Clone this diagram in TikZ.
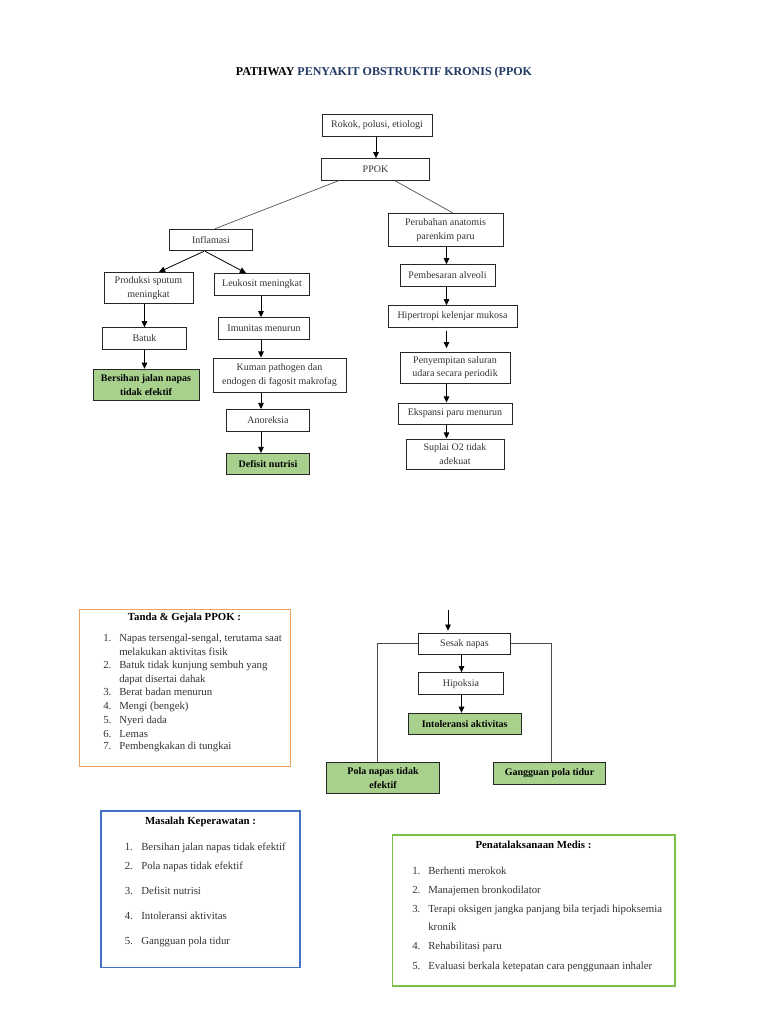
\documentclass[tikz,border=0pt]{standalone}
\usepackage{fontspec}
\setmainfont{Liberation Serif}
\usetikzlibrary{arrows.meta,calc}
\definecolor{txt}{HTML}{333333}
\definecolor{navy}{HTML}{1F3864}
\definecolor{gfill}{HTML}{A9D18E}
\definecolor{orangeb}{HTML}{F0A05A}
\definecolor{blueb}{HTML}{4472C4}
\definecolor{greenb}{HTML}{7CC04B}
\tikzset{
  wh/.style 2 args={minimum width=#1*0.75pt, minimum height=#2*0.75pt},
  fnt/.style={font=\fontsize{8.1}{10.3}\selectfont},
  bfnt/.style={font=\fontsize{7.5}{10.3}\selectfont},
  pbox/.style={draw=black!85, line width=0.75pt, fill=white, inner sep=0pt, align=center, text=txt, bfnt},
  gbox/.style={pbox, fill=gfill, text=black, font=\fontsize{7.5}{10.3}\selectfont\bfseries},
  arr/.style={-{Triangle[length=4.6pt,width=4.2pt]}, line width=0.6pt, black},
  link/.style={line width=0.5pt, black!70},
  frame/.style={draw, line width=0.9pt, inner sep=0pt},
  li/.style={anchor=west, inner sep=0pt, text=txt, fnt, text height=5.8pt, text depth=1.8pt},
  lt/.style={inner sep=0pt, text=black, font=\fontsize{8.1}{10.3}\selectfont\bfseries, text height=5.8pt, text depth=1.8pt}
}
\begin{document}
\begin{tikzpicture}[x=0.75pt,y=-0.75pt]
\useasboundingbox (0,0) rectangle (768,1024);

% title
\node[inner sep=0pt, font=\fontsize{9}{11}\selectfont\bfseries] (title) at (384,73) {PATHWAY \textcolor{navy}{PENYAKIT OBSTRUKTIF KRONIS (PPOK}};

% upper pathway
\node[pbox, wh={110}{21.5}] (rokok) at (377,125.5) {Rokok, polusi, etiologi};
\node[pbox, wh={108}{21.5}] (ppok) at (375.5,169.5) {PPOK};
\node[pbox, wh={83.5}{21.5}] (infl) at (211,240) {Inflamasi};
\node[pbox, wh={115}{33.5}] (perub) at (445.5,230) {Perubahan anatomis\\parenkim paru};
\node[pbox, wh={89}{31}] (produksi) at (148.5,288) {Produksi sputum\\meningkat};
\node[pbox, wh={95}{22}] (leuk) at (262,284.5) {Leukosit meningkat};
\node[pbox, wh={84}{21.5}] (batuk) at (144.5,338.5) {Batuk};
\node[gbox, wh={106}{31.5}] (bersihan) at (146,385) {Bersihan jalan napas\\tidak efektif};
\node[pbox, wh={91}{21.5}] (imun) at (264,328.5) {Imunitas menurun};
\node[pbox, wh={133}{34}] (kuman) at (279.5,375) {Kuman pathogen dan\\endogen di fagosit makrofag};
\node[pbox, wh={82.5}{22}] (anor) at (268,420.5) {Anoreksia};
\node[gbox, wh={82.5}{21}] (defisit) at (268,464) {Defisit nutrisi};
\node[pbox, wh={95}{21.5}] (pembes) at (447.5,275.5) {Pembesaran alveoli};
\node[pbox, wh={129}{21.5}] (hiper) at (452.5,316.5) {Hipertropi kelenjar mukosa};
\node[pbox, wh={110}{31}] (penyemp) at (455,367.5) {Penyempitan saluran\\udara secara periodik};
\node[pbox, wh={114}{21}] (ekspansi) at (455,413.5) {Ekspansi paru menurun};
\node[pbox, wh={98}{30}] (suplai) at (455,454) {Suplai O2 tidak\\adekuat};

\coordinate (axT) at (376,0);
\coordinate (axP) at (144.5,0);
\coordinate (axL) at (261,0);
\coordinate (axR) at (446.5,0);
\coordinate (axS) at (461.5,0);

\draw[arr] (rokok.south -| axT) -- (ppok.north -| axT);
\draw[link] ($(ppok.south)+(-37,0)$) -- ($(infl.north)+(4,0)$);
\draw[link] ($(ppok.south)+(19.5,0)$) -- ($(perub.north)+(7,0)$);
\draw[arr] ($(infl.south)+(-7,0)$) -- ($(produksi.north)+(10.5,0)$);
\draw[arr] ($(infl.south)+(-6,0)$) -- ($(leuk.north)+(-16,0)$);
\draw[arr] (produksi.south -| axP) -- (batuk.north -| axP);
\draw[arr] (batuk.south -| axP) -- (bersihan.north -| axP);
\draw[arr] (leuk.south -| axL) -- (imun.north -| axL);
\draw[arr] (imun.south -| axL) -- (kuman.north -| axL);
\draw[arr] (kuman.south -| axL) -- (anor.north -| axL);
\draw[arr] (anor.south -| axL) -- (defisit.north -| axL);
\draw[arr] (perub.south -| axR) -- (pembes.north -| axR);
\draw[arr] (pembes.south -| axR) -- (hiper.north -| axR);
\draw[arr, shorten <=2.5pt, shorten >=2.5pt] (hiper.south -| axR) -- (penyemp.north -| axR);
\draw[arr] (penyemp.south -| axR) -- (ekspansi.north -| axR);
\draw[arr] (ekspansi.south -| axR) -- (suplai.north -| axR);

% lower pathway
\node[pbox, wh={92.5}{21}] (sesak) at (464.5,643.7) {Sesak napas};
\node[pbox, wh={85}{22.3}] (hipok) at (461,683.8) {Hipoksia};
\node[gbox, wh={112.7}{21}] (intol) at (464.7,723.8) {Intoleransi aktivitas};
\node[gbox, wh={112.3}{31}] (pola) at (383,777.8) {Pola napas tidak\\efektif};
\node[gbox, wh={112.3}{22.7}] (gangg) at (549.5,773.6) {Gangguan pola tidur};
\coordinate (start) at (448,610);

\draw[arr, shorten >=1.5pt] (start) -- (sesak.north -| start);
\draw[arr] (sesak.south -| axS) -- (hipok.north -| axS);
\draw[arr] (hipok.south -| axS) -- (intol.north -| axS);
\draw[link] (sesak.west) -| ($(pola.north)+(-5.7,0)$);
\draw[link] (sesak.east) -| ($(gangg.north)+(2.2,0)$);

% Tanda & Gejala
\node[frame, draw=orangeb, wh={211.4}{157.4}] (tanda) at (184.8,688) {};
\node[lt] (tandat) at (184.5,618) {Tanda \& Gejala PPOK :};
\node[li] (t1n) at (103,639.3) {1.};
\node[li] (t1) at (119,639.3) {Napas tersengal-sengal, terutama saat};
\node[li] (t1b) at (119,652.7) {melakukan aktivitas fisik};
\node[li] (t2n) at (103,666) {2.};
\node[li] (t2) at (119,666) {Batuk tidak kunjung sembuh yang};
\node[li] (t2b) at (119,680) {dapat disertai dahak};
\node[li] (t3n) at (103,693.3) {3.};
\node[li] (t3) at (119,693.3) {Berat badan menurun};
\node[li] (t4n) at (103,707.3) {4.};
\node[li] (t4) at (119,707.3) {Mengi (bengek)};
\node[li] (t5n) at (103,720.7) {5.};
\node[li] (t5) at (119,720.7) {Nyeri dada};
\node[li] (t6n) at (103,734.5) {6.};
\node[li] (t6) at (119,734.5) {Lemas};
\node[li] (t7n) at (103,747.3) {7.};
\node[li] (t7) at (119,747.3) {Pembengkakan di tungkai};

% Masalah Keperawatan
\node[frame, draw=blueb, wh={199}{156.7}] (masalah) at (200.5,889.4) {};
\node[lt] (masalaht) at (200.5,821.7) {Masalah Keperawatan :};
\node[li] (m1n) at (124.5,848.3) {1.};
\node[li] (m1) at (141,848.3) {Bersihan jalan napas tidak efektif};
\node[li] (m2n) at (124.5,866.7) {2.};
\node[li] (m2) at (141,866.7) {Pola napas tidak efektif};
\node[li] (m3n) at (124.5,892) {3.};
\node[li] (m3) at (141,892) {Defisit nutrisi};
\node[li] (m4n) at (124.5,916.7) {4.};
\node[li] (m4) at (141,916.7) {Intoleransi aktivitas};
\node[li] (m5n) at (124.5,941.7) {5.};
\node[li] (m5) at (141,941.7) {Gangguan pola tidur};

% Penatalaksanaan Medis
\node[frame, draw=greenb, wh={282.7}{151}] (medis) at (533.7,910.5) {};
\node[lt] (medist) at (533.5,846) {Penatalaksanaan Medis :};
\node[li] (p1n) at (412,871.7) {1.};
\node[li] (p1) at (428,871.7) {Berhenti merokok};
\node[li] (p2n) at (412,891) {2.};
\node[li] (p2) at (428,891) {Manajemen bronkodilator};
\node[li] (p3n) at (412,910) {3.};
\node[li] (p3) at (428,910) {Terapi oksigen jangka panjang bila terjadi hipoksemia};
\node[li] (p3b) at (428,928.3) {kronik};
\node[li] (p4n) at (412,947.3) {4.};
\node[li] (p4) at (428,947.3) {Rehabilitasi paru};
\node[li] (p5n) at (412,966.7) {5.};
\node[li] (p5) at (428,966.7) {Evaluasi berkala ketepatan cara penggunaan inhaler};
\end{tikzpicture}
\end{document}
